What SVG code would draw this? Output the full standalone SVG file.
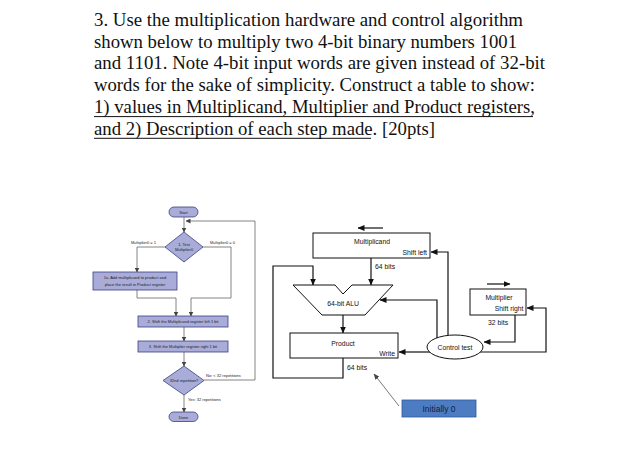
<svg xmlns="http://www.w3.org/2000/svg" width="640" height="467" viewBox="0 0 640 467">
<defs>
<style>
.q{font-family:"Liberation Serif","Times New Roman",serif;font-size:18.9px;fill:#111}
.ul{stroke:#111;stroke-width:1}
.fn{fill:#a9acd8;stroke:#3b4080;stroke-width:0.8}
.ft{font-family:"Liberation Sans",Arial,sans-serif;font-size:4px;fill:#222;text-anchor:middle}
.fl{font-family:"Liberation Sans",Arial,sans-serif;font-size:4px;fill:#222}
.fc{fill:none;stroke:#666;stroke-width:0.8}
.hb{fill:#fff;stroke:#111;stroke-width:1}
.ht{font-family:"Liberation Sans",Arial,sans-serif;font-size:6.8px;fill:#111}
.hc{fill:none;stroke:#111;stroke-width:1.2}
</style>
<marker id="fa" markerWidth="5" markerHeight="5" refX="4.5" refY="2.5" orient="auto" markerUnits="userSpaceOnUse"><path d="M0,0 L5,2.5 L0,5 z" fill="#444"/></marker>
<marker id="ha" markerWidth="7" markerHeight="6" refX="6.5" refY="3" orient="auto" markerUnits="userSpaceOnUse"><path d="M0,0 L7,3 L0,6 z" fill="#111"/></marker>
<marker id="pa" markerWidth="6" markerHeight="5" refX="5.5" refY="2.5" orient="auto" markerUnits="userSpaceOnUse"><path d="M0,0 L6,2.5 L0,5 z" fill="#444"/></marker>
</defs>
<rect width="640" height="467" fill="#fff"/>
<g id="question">
<text class="q" x="94" y="26" textLength="429" lengthAdjust="spacingAndGlyphs">3. Use the multiplication hardware and control algorithm</text>
<text class="q" x="94" y="47.7" textLength="423" lengthAdjust="spacingAndGlyphs">shown below to multiply two 4-bit binary numbers 1001</text>
<text class="q" x="94" y="69.4" textLength="451" lengthAdjust="spacingAndGlyphs">and 1101. Note 4-bit input words are given instead of 32-bit</text>
<text class="q" x="94" y="91.1" textLength="441" lengthAdjust="spacingAndGlyphs">words for the sake of simplicity. Construct a table to show:</text>
<text class="q" x="94" y="112.8" textLength="441" lengthAdjust="spacingAndGlyphs">1) values in Multiplicand, Multiplier and Product registers,</text>
<text class="q" x="94" y="134.5" textLength="341" lengthAdjust="spacingAndGlyphs">and 2) Description of each step made. [20pts]</text>
<line class="ul" x1="94" y1="116.6" x2="533" y2="116.6"/>
<line class="ul" x1="94" y1="138.3" x2="371" y2="138.3"/>
</g>
<g id="flow-connectors">
<path class="fc" d="M184 217 V232" marker-end="url(#fa)"/>
<path class="fc" d="M204 380 H255 V221 H186" marker-end="url(#fa)"/>
<path class="fc" d="M165 247 H137 V272" marker-end="url(#fa)"/>
<path class="fc" d="M203 247 H231 V298 H191 V316" marker-end="url(#fa)"/>
<path class="fc" d="M137 290 V298 H176 V316" marker-end="url(#fa)"/>
<path class="fc" d="M184 327 V341" marker-end="url(#fa)"/>
<path class="fc" d="M184 352 V366" marker-end="url(#fa)"/>
<path class="fc" d="M184 395 V412" marker-end="url(#fa)"/>
<text class="fl" x="131" y="243.5">Multiplier0 = 1</text>
<text class="fl" x="210" y="243.5">Multiplier0 = 0</text>
<text class="fl" x="206" y="377">No: &lt; 32 repetitions</text>
<text class="fl" x="188" y="401">Yes: 32 repetitions</text>
</g>
<g id="start">
<rect class="fn" x="169" y="207" width="29" height="10" rx="5"/>
<text class="ft" x="183.5" y="213.5">Start</text>
</g>
<g id="test1">
<polygon class="fn" points="184,232 203,247 184,262 165,247"/>
<text class="ft" x="184" y="245.5">1.  Test</text>
<text class="ft" x="184" y="251">Multiplier0</text>
</g>
<g id="step1a">
<rect class="fn" x="93" y="272" width="84" height="18"/>
<text class="ft" x="135" y="279">1a.  Add multiplicand to product and</text>
<text class="ft" x="135" y="286">place the result in Product register</text>
</g>
<g id="step2">
<rect class="fn" x="138" y="316" width="90" height="11"/>
<text class="ft" x="183" y="323">2.  Shift the Multiplicand register left 1 bit</text>
</g>
<g id="step3">
<rect class="fn" x="138" y="341" width="90" height="11"/>
<text class="ft" x="183" y="348">3.  Shift the Multiplier register right 1 bit</text>
</g>
<g id="test2">
<polygon class="fn" points="184,366 204,380.5 184,395 163,380.5"/>
<text class="ft" x="184" y="382">32nd repetition?</text>
</g>
<g id="done">
<rect class="fn" x="169" y="412" width="29" height="9.5" rx="4.75"/>
<text class="ft" x="183.5" y="418.5">Done</text>
</g>
<g id="hw-connectors">
<path class="hc" d="M383 228 H358" marker-end="url(#ha)"/>
<path class="hc" d="M487 284 H510" marker-end="url(#ha)"/>
<path class="hc" d="M371 258 V285" marker-end="url(#ha)"/>
<path class="hc" d="M343 358 V378 H273 V266 H313 V285" marker-end="url(#ha)"/>
<path class="hc" d="M343 315 V333" marker-end="url(#ha)"/>
<path class="hc" d="M448 335.5 V252 H431" marker-end="url(#ha)"/>
<path class="hc" d="M437 338 V300 H380" marker-end="url(#ha)"/>
<path class="hc" d="M430 352 H399" marker-end="url(#ha)"/>
<path class="hc" d="M515 315 V342 H484" marker-end="url(#ha)"/>
<path class="hc" d="M480 352 H546 V308 H527" marker-end="url(#ha)"/>
<path d="M399 406 L374 374" fill="none" stroke="#555" stroke-width="0.8" marker-end="url(#pa)"/>
<text class="ht" x="375" y="268.5">64 bits</text>
<text class="ht" x="347" y="369.5">64 bits</text>
<text class="ht" x="488" y="325">32 bits</text>
</g>
<g id="multiplicand">
<rect class="hb" x="313" y="233" width="117" height="25"/>
<text class="ht" x="372" y="243.5" text-anchor="middle">Multiplicand</text>
<text class="ht" x="427" y="254.5" text-anchor="end">Shift left</text>
</g>
<g id="alu">
<polygon class="hb" points="293,285 335,285 343,294 352,285 393,285 365,315 322,315"/>
<text class="ht" x="343" y="306" text-anchor="middle">64-bit ALU</text>
</g>
<g id="product">
<rect class="hb" x="290" y="333" width="108" height="25"/>
<text class="ht" x="343" y="345.5" text-anchor="middle">Product</text>
<text class="ht" x="395" y="356" text-anchor="end">Write</text>
</g>
<g id="multiplier">
<rect class="hb" x="470" y="289" width="56" height="26"/>
<text class="ht" x="499" y="300" text-anchor="middle">Multiplier</text>
<text class="ht" x="523.5" y="310.5" text-anchor="end">Shift right</text>
</g>
<g id="control">
<ellipse class="hb" cx="455" cy="347" rx="28" ry="12"/>
<text class="ht" x="455" y="349.5" text-anchor="middle">Control test</text>
</g>
<g id="initially">
<rect x="402" y="400" width="74" height="17" fill="#4d7cc3" stroke="#2f5a95" stroke-width="0.8"/>
<text x="439" y="412" font-family="Liberation Sans,Arial,sans-serif" font-size="8.5" fill="#15213a" text-anchor="middle">Initially 0</text>
</g>
</svg>
